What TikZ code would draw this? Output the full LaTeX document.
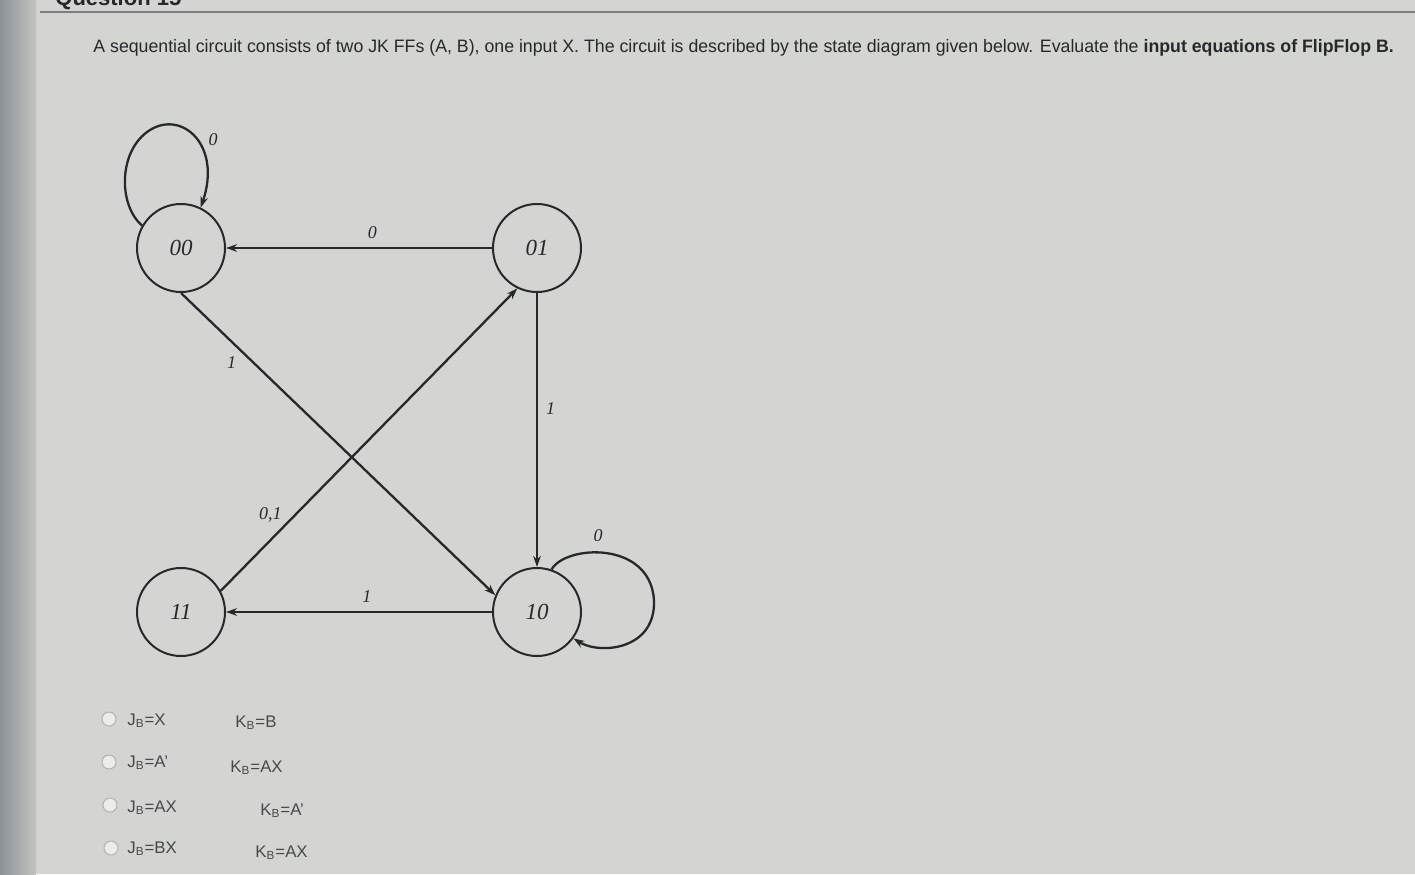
\documentclass[tikz,border=0pt]{standalone}
\usepackage{fontspec}
\setmainfont{Liberation Sans}
\newfontfamily\uifont[FakeStretch=0.985]{Liberation Sans}
\newfontfamily\statefont{Liberation Serif}
\usetikzlibrary{arrows.meta}
\definecolor{screen}{RGB}{212,213,210}
\definecolor{bezel}{RGB}{140,146,150}
\definecolor{ink}{RGB}{38,40,44}

\begin{document}
\begin{tikzpicture}[x=0.5pt, y=-0.5pt,
    state/.style={draw=ink, circle, line width=1pt, minimum size=44pt, inner sep=0pt, text=ink, font=\statefont\itshape\fontsize{11.5}{11.5}\selectfont},
    trans/.style={draw=ink, line width=1.15pt, -{Stealth[length=5.5pt, width=3.8pt]}},
    lbl/.style={text=ink, inner sep=1pt, font=\statefont\itshape\fontsize{9}{9}\selectfont},
    opt/.style={anchor=base west, inner sep=0pt, text=ink!85, font=\fontsize{8.4}{10}\selectfont},
    radio/.style={draw=gray!60, fill=white!55!screen, line width=0.5pt}]

    \clip (0,0) rectangle (1415,874);
    \fill[screen] (0,0) rectangle (1415,874);
    \shade[left color=bezel, right color=screen!92!black] (0,0) rectangle (36,874);

    \node[anchor=base west, inner sep=0pt, text=ink, font=\bfseries\fontsize{11}{11}\selectfont] (qhead) at (55,5) {Question 15};
    \draw[ink!60, line width=0.6pt] (qhead.base west) ++(-15,7) coordinate (rule) -- (rule -| 1415,0);

    \node[anchor=base west, inner sep=0pt, text=ink, font=\uifont\fontsize{9}{11}\selectfont] (task) at (93,52) {A sequential circuit consists of two JK FFs (A, B), one input X. The circuit is described by the state diagram given below. Evaluate the \textbf{input equations of FlipFlop B.}};

    \node[state] (s00) at (181,248) {00};
    \node[state, right of=s00, node distance=178pt] (s01) {01};
    \node[state, below of=s00, node distance=182pt] (s11) {11};
    \node[state, right of=s11, node distance=178pt] (s10) {10};

    \draw[trans] (s00.150) .. controls (118,205) and (118,150) .. (150,130) .. controls (182,110) and (222,145) .. (s00.64);
    \node[lbl] at (213,140) {0};
    \draw[trans] (s01) -- (s00) node[lbl, pos=0.45, above=3pt] {0};
    \draw[trans] (s00.south) -- (s10.158) node[lbl, pos=0.23, left=7pt] {1};
    \draw[trans] (s11.28) -- (s01.-116) node[lbl, pos=0.25, left=5pt] {0,1};
    \draw[trans] (s01) -- (s10) node[lbl, pos=0.42, right=3pt] {1};
    \draw[trans] (s10) -- (s11) node[lbl, pos=0.47, above=3pt] {1};
    \draw[trans] (s10.71) .. controls (565,545) and (650,540) .. (654,600) .. controls (656,650) and (600,655) .. (s10.-36);
    \node[lbl] at (598,536) {0};

    \draw[radio] (109,719) circle[radius=3.5pt];
    \draw[radio] (109,762) circle[radius=3.5pt];
    \draw[radio] (110,805) circle[radius=3.5pt];
    \draw[radio] (111,848) circle[radius=3.5pt];

    \node[opt] (j1) at (127,725) {J\textsubscript{B}=X};
    \node[opt] (k1) at (235,727) {K\textsubscript{B}=B};
    \node[opt] (j2) at (127,767) {J\textsubscript{B}=A'};
    \node[opt] (k2) at (230,772) {K\textsubscript{B}=AX};
    \node[opt] (j3) at (127,812) {J\textsubscript{B}=AX};
    \node[opt] (k3) at (260,815) {K\textsubscript{B}=A'};
    \node[opt] (j4) at (127,853) {J\textsubscript{B}=BX};
    \node[opt] (k4) at (255,857) {K\textsubscript{B}=AX};

\end{tikzpicture}
\end{document}
